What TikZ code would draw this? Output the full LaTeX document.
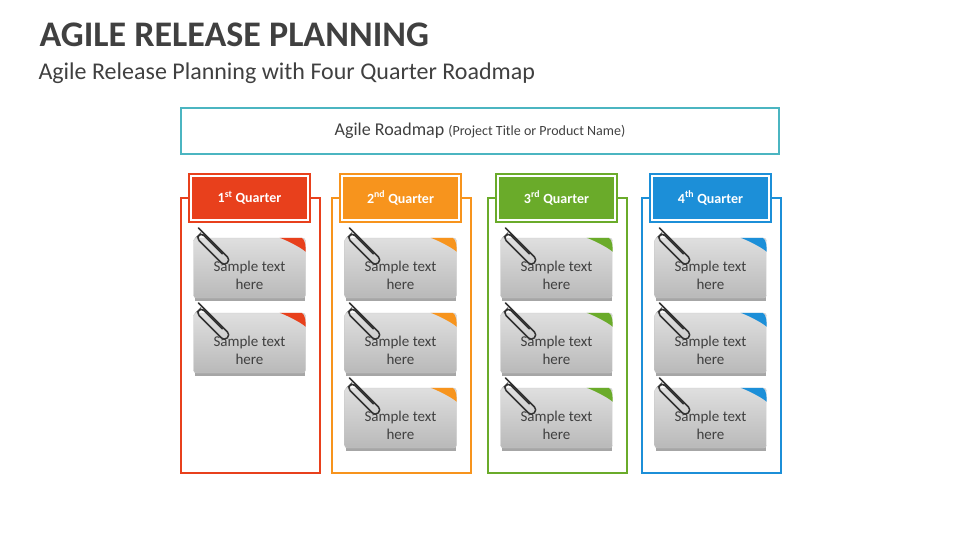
\documentclass[tikz,border=0pt]{standalone}
\usepackage{fontspec}
\setmainfont{Carlito}
\usetikzlibrary{positioning,calc}
\definecolor{qred}{HTML}{E8401C}
\definecolor{qorange}{HTML}{F7941D}
\definecolor{qgreen}{HTML}{6AAB2A}
\definecolor{qblue}{HTML}{1C8FD8}
\definecolor{teal}{HTML}{4BB5C1}
\definecolor{ink}{HTML}{404040}
\tikzset{
  colbox/.style={draw=#1,line width=1.5pt,minimum width=139pt,minimum height=275pt,anchor=north west},
  headbox/.style={fill=#1,draw=#1,text=white,minimum width=117pt,minimum height=44pt,
    double=white,double distance=2.5pt,line width=1.5pt,font=\fontsize{14}{16}\selectfont\bfseries},
  notebox/.style={rounded corners=3pt,top color=gray!25,bottom color=gray!55,draw=gray!45,
    minimum width=112pt,minimum height=60pt,align=center,text=ink,font=\fontsize{15}{18}\selectfont,
    text depth=0pt,inner sep=0pt}
}
% one sticky note: name, centre, colour
\newcommand\stickynote[3]{%
  \fill[gray!70] ($#2+(-55pt,-33pt)$) rectangle ($#2+(55pt,-28pt)$);
  \node[notebox] (#1) at #2 {\\[6pt]Sample text\\here};
  \fill[#3] (#1.north east) ++(-26pt,0) -- ++(22pt,0) .. controls +(4pt,-2pt) and +(0,4pt) .. ++(4pt,-14pt)
     .. controls +(-4pt,4pt) and +(6pt,-2pt) .. cycle;
  \draw[gray!40!black,line width=1.5pt,rounded corners=4pt,line cap=round]
     (#1.north west) ++(5pt,10pt) -- ++(32pt,-32pt) -- ++(-6pt,-6pt) -- ++(-28pt,28pt) -- ++(5pt,5pt) -- ++(21pt,-21pt);
}
\begin{document}
\begin{tikzpicture}[x=1pt,y=-1pt]
  \useasboundingbox (0,0) rectangle (960,540);
  \node[anchor=west,font=\fontsize{36}{40}\selectfont\bfseries,text=ink] (title) at (36,35) {AGILE RELEASE PLANNING};
  \node[anchor=west,font=\fontsize{24}{28}\selectfont,text=ink] (subtitle) at (35,73) {Agile Release Planning with Four Quarter Roadmap};
  \node[draw=teal,line width=2.5pt,minimum width=598pt,minimum height=46pt,text=ink,font=\fontsize{18}{21}\selectfont] (road) at (480,131)
    {Agile Roadmap {\fontsize{14}{16}\selectfont(Project Title or Product Name)}};

  \foreach \x/\c/\q/\s/\n in {180/qred/1/st/2,331/qorange/2/nd/3,487/qgreen/3/rd/3,641/qblue/4/th/3}{
    \node[colbox=\c] (col\q) at (\x,197) {};
    \node[headbox=\c] (head\q) at ([xshift=69.5pt,yshift=-1pt]col\q.north west) {\q\textsuperscript{\s} Quarter};
    \foreach \k in {1,...,\n}{
      \stickynote{note\q\k}{(\x+69.5,193+75*\k)}{\c}
    }
  }
\end{tikzpicture}
\end{document}
